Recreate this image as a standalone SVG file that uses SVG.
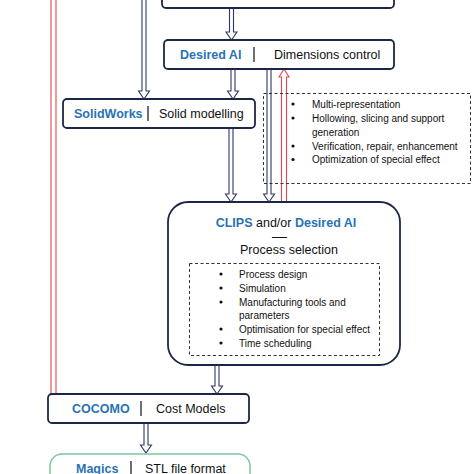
<svg xmlns="http://www.w3.org/2000/svg" width="474" height="474" viewBox="0 0 474 474">
<style>
.box{fill:#fff;stroke:#1c2747;stroke-width:1.8}
.lbl{font-family:"Liberation Sans",Arial,sans-serif;font-size:12.5px;fill:#111}
.tool{font-family:"Liberation Sans",Arial,sans-serif;font-size:12.5px;font-weight:bold;fill:#2a72b5}
.sm{font-family:"Liberation Sans",Arial,sans-serif;font-size:10px;fill:#111}
.sep{stroke:#222;stroke-width:1.3}
.dash{fill:none;stroke:#333;stroke-width:1;stroke-dasharray:3,2.5}
.arr{fill:#fff;stroke:#2c3b66;stroke-width:1.1}
.red{fill:#fff;stroke:#e0474c;stroke-width:1.1}
.bul{fill:#111}
</style>
<rect width="474" height="474" fill="#fff"/>
<g id="connectors">
<path class="red" d="M51,0 V394 M56,0 V394" fill="none"/>
<path class="arr" d="M142,0 V91 H138.5 L144,99 L149.5,91 H146 V0"/>
<path class="arr" d="M229.5,8 V32 H226 L231.5,40 L237,32 H233.5 V8"/>
<path class="arr" d="M231,69 V91 H227.5 L233,99 L238.5,91 H235 V69"/>
<path class="arr" d="M229,128 V194 H225.5 L231,202 L236.5,194 H233 V128"/>
<path class="arr" d="M267,69 V194 H263.5 L269,202 L274.5,194 H271 V69"/>
<path class="red" d="M281.5,202 V77 H279 L284,69 L289,77 H286.5 V202"/>
<path class="arr" d="M215,365 V386 H211.5 L217,394 L222.5,386 H219 V365"/>
<path class="arr" d="M144,423 V445 H140.5 L146,453 L151.5,445 H148 V423"/>
</g>
<g id="node-top">
<rect class="box" x="162" y="-20" width="232" height="28" rx="4"/>
</g>
<g id="node-dimensions">
<rect class="box" x="164" y="40" width="230" height="29" rx="4"/>
<text class="tool" x="180" y="59">Desired AI</text>
<line class="sep" x1="254" y1="47" x2="254" y2="62"/>
<text class="lbl" x="274" y="59">Dimensions control</text>
</g>
<g id="node-solid">
<rect class="box" x="63" y="99" width="192" height="29" rx="4"/>
<text class="tool" x="74" y="118">SolidWorks</text>
<line class="sep" x1="148" y1="106" x2="148" y2="121"/>
<text class="lbl" x="159" y="118">Solid modelling</text>
</g>
<g id="note-stl">
<rect class="dash" x="263.5" y="93.5" width="207" height="90"/>
<circle class="bul" cx="293" cy="104" r="1.6"/>
<text class="sm" x="312" y="107.5">Multi-representation</text>
<circle class="bul" cx="293" cy="118" r="1.6"/>
<text class="sm" x="312" y="121.5">Hollowing, slicing and support</text>
<text class="sm" x="312" y="135.5">generation</text>
<circle class="bul" cx="293" cy="146" r="1.6"/>
<text class="sm" x="312" y="149.5">Verification, repair, enhancement</text>
<circle class="bul" cx="293" cy="159.5" r="1.6"/>
<text class="sm" x="312" y="163">Optimization of special effect</text>
</g>
<g id="node-process">
<rect class="box" x="168" y="202" width="232" height="163" rx="20"/>
<text class="lbl" x="286" y="227" text-anchor="middle"><tspan class="tool">CLIPS</tspan> and/or <tspan class="tool">Desired AI</tspan></text>
<text class="lbl" x="272" y="240.5" font-size="8.5" textLength="15" lengthAdjust="spacingAndGlyphs">—</text>
<text class="lbl" x="289" y="254" text-anchor="middle">Process selection</text>
<rect class="dash" x="189.5" y="263.5" width="190" height="92"/>
<circle class="bul" cx="221" cy="274" r="1.6"/>
<text class="sm" x="239" y="277.5">Process design</text>
<circle class="bul" cx="221" cy="288" r="1.6"/>
<text class="sm" x="239" y="291.5">Simulation</text>
<circle class="bul" cx="221" cy="302" r="1.6"/>
<text class="sm" x="239" y="305.5">Manufacturing tools and</text>
<text class="sm" x="239" y="319">parameters</text>
<circle class="bul" cx="221" cy="329" r="1.6"/>
<text class="sm" x="239" y="332.5">Optimisation for special effect</text>
<circle class="bul" cx="221" cy="343" r="1.6"/>
<text class="sm" x="239" y="346.5">Time scheduling</text>
</g>
<g id="node-cost">
<rect class="box" x="48" y="394" width="201" height="29" rx="4"/>
<text class="tool" x="72" y="413">COCOMO</text>
<line class="sep" x1="141" y1="401" x2="141" y2="416"/>
<text class="lbl" x="156" y="413">Cost Models</text>
</g>
<g id="node-stl">
<rect x="50" y="454" width="200" height="40" rx="12" fill="#fff" stroke="#7cc6a0" stroke-width="1.5"/>
<text class="tool" x="76" y="472.5">Magics</text>
<line class="sep" x1="131" y1="461" x2="131" y2="476"/>
<text class="lbl" x="145" y="472.5">STL file format</text>
</g>
</svg>
